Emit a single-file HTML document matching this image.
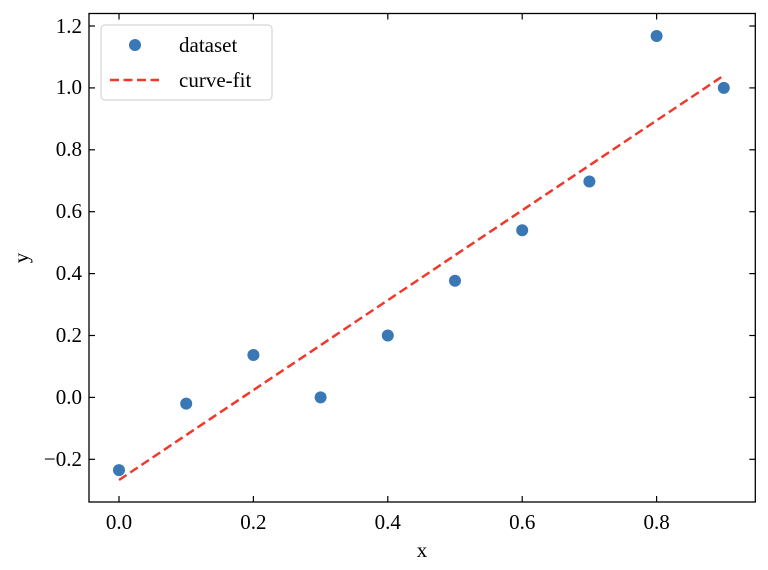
<!DOCTYPE html>
<html><head><meta charset="utf-8"><style>body{margin:0;background:#fff}svg{display:block}text{font-family:"Liberation Serif",serif;font-size:21px;fill:#000}</style></head><body>
<svg width="768" height="570" viewBox="0 0 768 570">
<g stroke="#000" stroke-width="1.2">
<line x1="119.0" y1="502" x2="119.0" y2="496"/><line x1="119.0" y1="13.5" x2="119.0" y2="19.5"/>
<line x1="253.4" y1="502" x2="253.4" y2="496"/><line x1="253.4" y1="13.5" x2="253.4" y2="19.5"/>
<line x1="387.8" y1="502" x2="387.8" y2="496"/><line x1="387.8" y1="13.5" x2="387.8" y2="19.5"/>
<line x1="522.2" y1="502" x2="522.2" y2="496"/><line x1="522.2" y1="13.5" x2="522.2" y2="19.5"/>
<line x1="656.6" y1="502" x2="656.6" y2="496"/><line x1="656.6" y1="13.5" x2="656.6" y2="19.5"/>
<line x1="89" y1="459.3" x2="95" y2="459.3"/><line x1="755.3" y1="459.3" x2="749.3" y2="459.3"/>
<line x1="89" y1="397.4" x2="95" y2="397.4"/><line x1="755.3" y1="397.4" x2="749.3" y2="397.4"/>
<line x1="89" y1="335.5" x2="95" y2="335.5"/><line x1="755.3" y1="335.5" x2="749.3" y2="335.5"/>
<line x1="89" y1="273.6" x2="95" y2="273.6"/><line x1="755.3" y1="273.6" x2="749.3" y2="273.6"/>
<line x1="89" y1="211.7" x2="95" y2="211.7"/><line x1="755.3" y1="211.7" x2="749.3" y2="211.7"/>
<line x1="89" y1="149.8" x2="95" y2="149.8"/><line x1="755.3" y1="149.8" x2="749.3" y2="149.8"/>
<line x1="89" y1="87.9" x2="95" y2="87.9"/><line x1="755.3" y1="87.9" x2="749.3" y2="87.9"/>
<line x1="89" y1="26.0" x2="95" y2="26.0"/><line x1="755.3" y1="26.0" x2="749.3" y2="26.0"/>
</g>
<g fill="#3a78b5">
<circle cx="119.0" cy="470.1" r="6"/><circle cx="186.2" cy="403.6" r="6"/><circle cx="253.4" cy="355" r="6"/>
<circle cx="320.6" cy="397.4" r="6"/><circle cx="387.8" cy="335.5" r="6"/><circle cx="455.0" cy="280.7" r="6"/>
<circle cx="522.2" cy="230.3" r="6"/><circle cx="589.4" cy="181.5" r="6"/><circle cx="656.6" cy="36" r="6"/>
<circle cx="723.8" cy="87.9" r="6"/>
</g>
<line x1="119" y1="480" x2="722" y2="76.7" stroke="#f0392b" stroke-width="2.5" stroke-dasharray="9,4.5"/>
<rect x="89" y="13.5" width="666.3" height="488.5" fill="none" stroke="#000" stroke-width="1.3"/>
<rect x="101" y="25" width="171" height="75" rx="4" fill="#fff" fill-opacity="0.8" stroke="#ccc" stroke-width="1"/>
<circle cx="135" cy="45" r="6" fill="#3a78b5"/>
<line x1="110" y1="80" x2="159" y2="80" stroke="#f0392b" stroke-width="2.5" stroke-dasharray="9,4.5"/>
<text x="179" y="52">dataset</text>
<text x="179" y="87">curve-fit</text>
<g text-anchor="middle">
<text x="119.0" y="529">0.0</text><text x="253.4" y="529">0.2</text><text x="387.8" y="529">0.4</text><text x="522.2" y="529">0.6</text><text x="656.6" y="529">0.8</text>
<text x="422" y="557">x</text>
</g>
<g text-anchor="end">
<text x="82" y="466">−0.2</text><text x="82" y="404">0.0</text><text x="82" y="342">0.2</text><text x="82" y="280">0.4</text>
<text x="82" y="218">0.6</text><text x="82" y="156">0.8</text><text x="82" y="94">1.0</text><text x="82" y="33">1.2</text>
</g>
<text x="28" y="258" text-anchor="middle" transform="rotate(-90 28 258)">y</text>
</svg>
</body></html>
